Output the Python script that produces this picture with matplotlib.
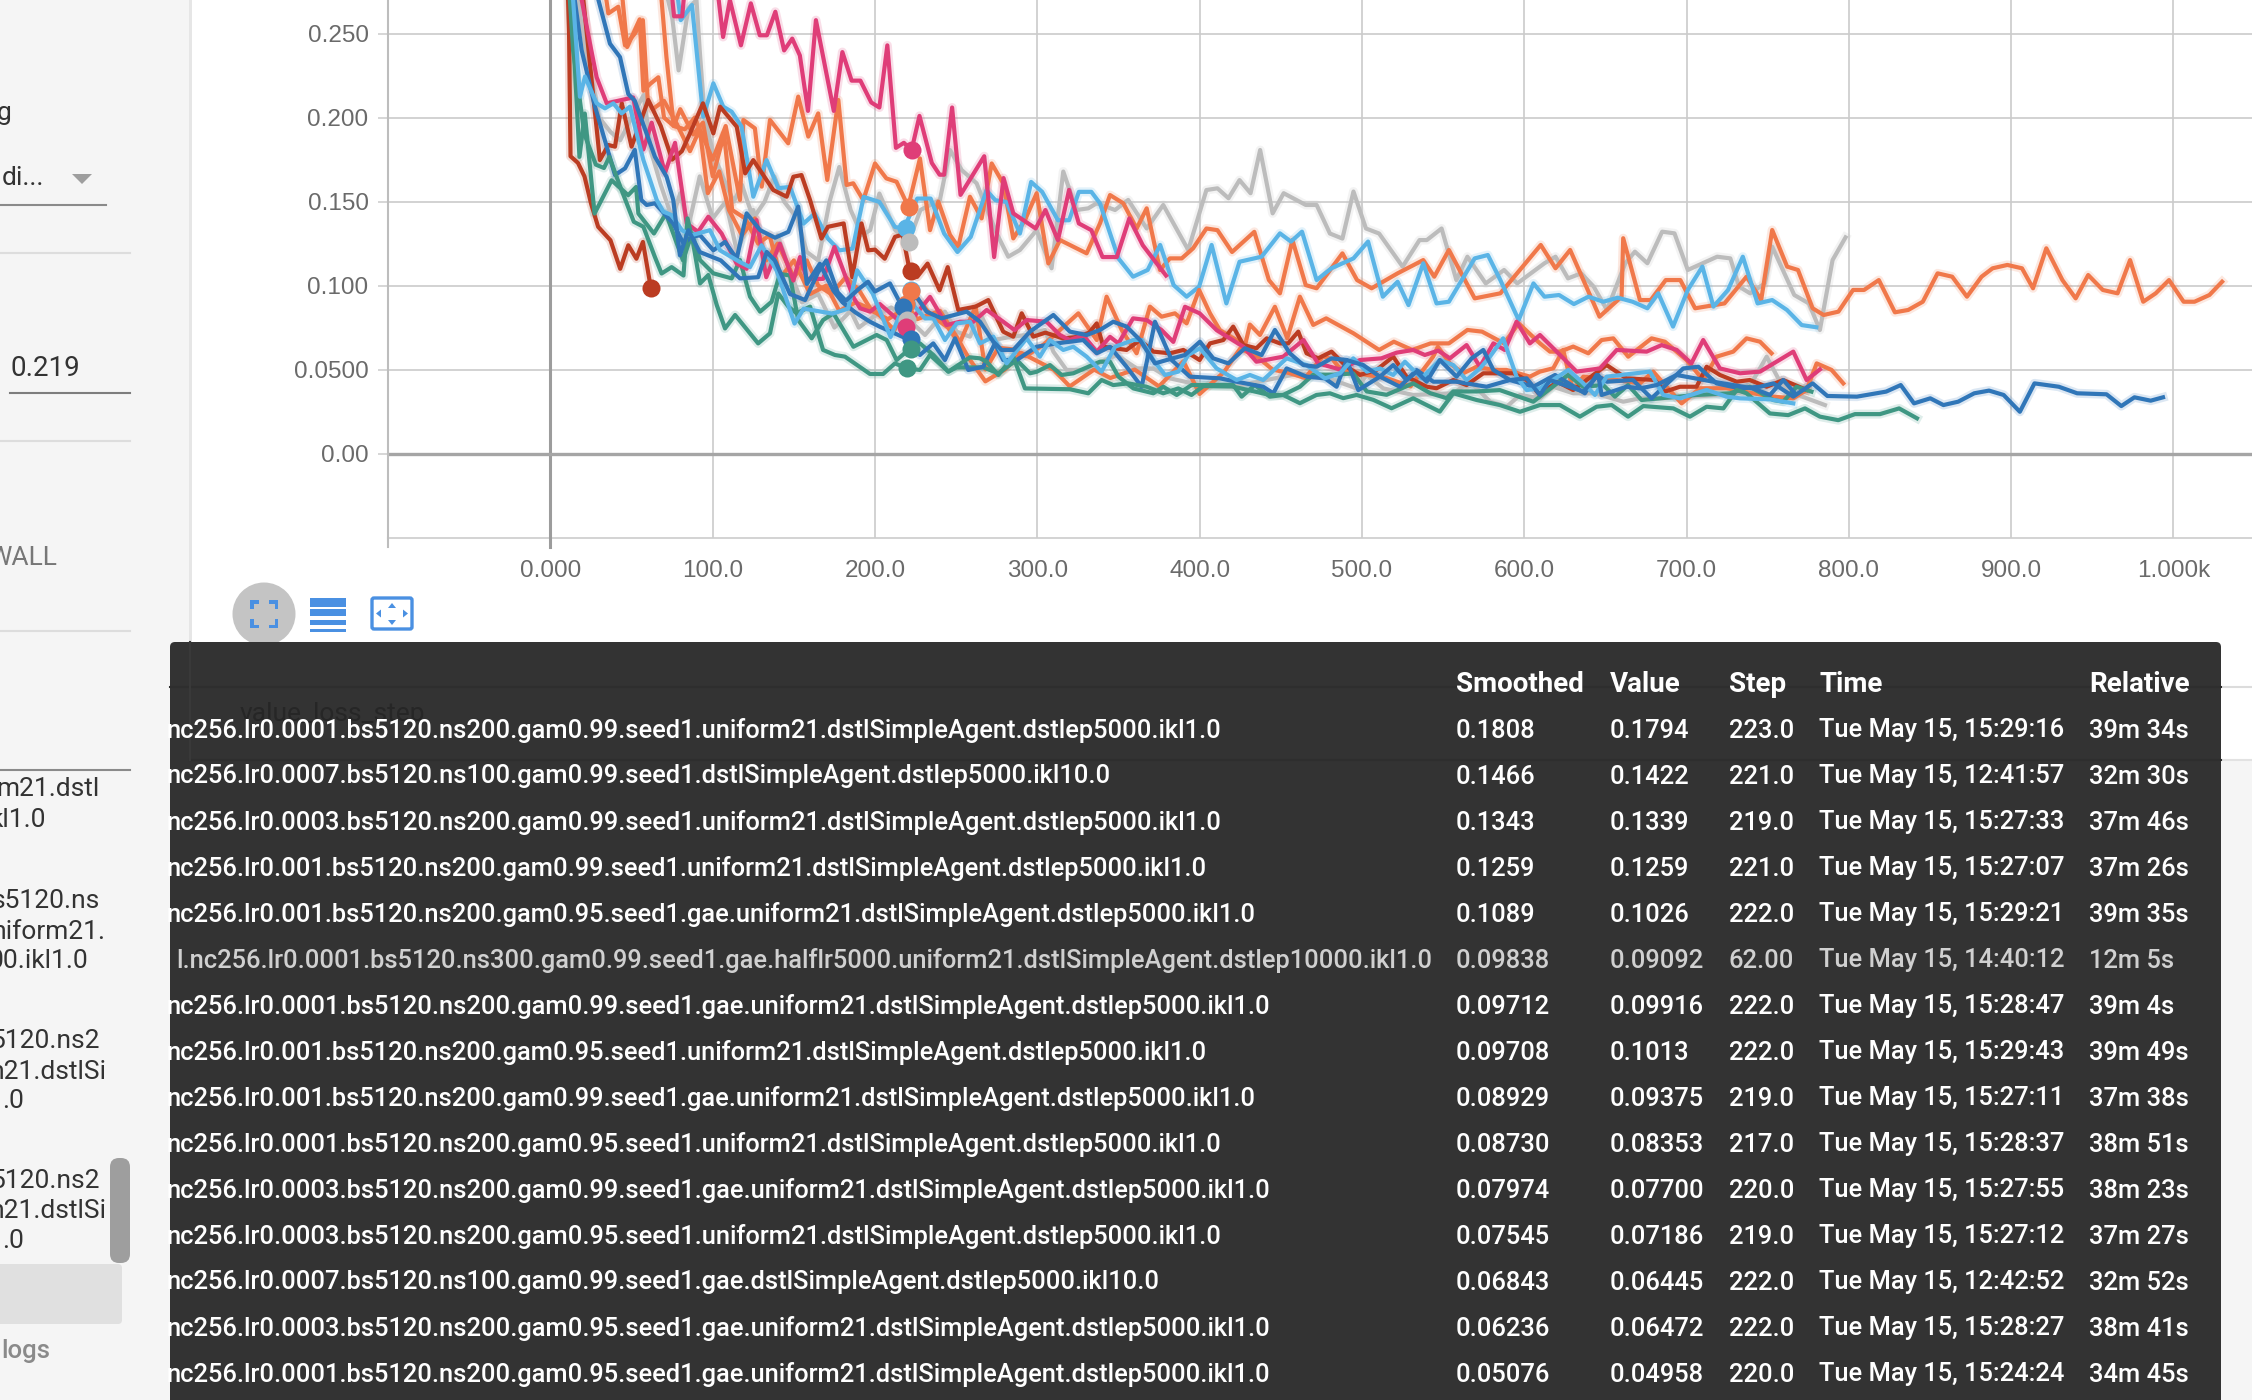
import matplotlib
matplotlib.use("Agg")
import matplotlib.pyplot as plt
from matplotlib.patches import Rectangle, FancyBboxPatch, Ellipse, Polygon

plt.rcParams['font.family'] = ['Roboto', 'DejaVu Sans']

ORANGE = '#f0784a'
BLUE = '#3076b8'
RED = '#bb3c22'
LBLUE = '#5ab4e6'
PINK = '#df3d78'
TEAL = '#3f9783'
GRAY = '#bcbcbc'

# run curves (step, smoothed value)
gray_hi_steps = [70,75,79,85,90,92,95,100,106,113,118,125,132,138,144,152,158,165,172,178,185,192,197,202.7,212.5,220.8,228,240,246.2,253.4,262.6,275,282.1,289.3,299.6,308.8,316,324.2,331.4,336.6,347.9,356,367.4,377.6,393,404.2,411,417.8,424.6,431.4,437.3,445,451.8,465.4,472.1,480.3,488,494.8,502.5,510.6,525.1,535.5,540,549.1,558.2,565,576.3,587.6,595.7,612.5,619.3,627,635.1,642.8,651,662.3,668.2,675.9,685,692.6,700.8,718.9,727,732.4,739.2,748.3,752.8,766.4,775.4,782.2,790,798]
gray_hi_vals = [.28,.26,.2281,.265,.27,.24,.2,.18,.165,.15,.16,.14,.15,.165,.15,.14,.12,.115,.15,.1706,.145,.13,.133,.1548,.133,.1262,.145,.151,.1807,.1688,.1609,.131,.1172,.1212,.133,.1103,.1679,.145,.146,.149,.145,.151,.134,.148,.1212,.1569,.1579,.152,.1628,.155,.1807,.143,.155,.148,.148,.131,.128,.156,.134,.131,.1113,.1271,.1271,.134,.1033,.1172,.1013,.1093,.1013,.1133,.1172,.1043,.1073,.0994,.0855,.1133,.1202,.1133,.1321,.1311,.1093,.1172,.1162,.0994,.0954,.1013,.1232,.0944,.0894,.0736,.1152,.1287]

orange_long_steps = [66,68.5,71.5,76,82.8,89,100,108,116.8,118.9,126,130.2,135.3,146.5,152.7,158.9,165,170.6,177.4,182.5,186.6,192.8,200,207,213.3,220.5,227.7,233.9,239,246.2,251.3,258.5,265.7,271.9,279,285.2,292.4,299.6,306.8,314,330.4,338.6,344.8,353,361.2,367.4,375.6,381.7,389,396,404.2,411,420,433.7,442.7,449.5,457.2,465.4,472.1,488,497,506,522,537.8,544.6,553.6,569.5,585.3,610.2,619.3,628.3,646.4,660,661,671.3,678,687.2,696.2,705.3,723.4,737,746,752.8,762,768.7,777.7,784.5,793.6,802.6,809.4,818.5,828.4,836.6,845.6,854.7,863.7,872.8,881.8,888.6,897.7,906.7,913.5,921.7,931.6,939.8,947.5,956.5,965.6,973.3,981.4,989.1,997.3,1006.3,1013,1022.2,1030]
orange_long_vals = [.32,.27,.236,.195,.193,.2,.175,.195,.151,.1986,.1936,.1589,.1986,.1847,.2125,.1887,.2025,.1629,.2105,.1599,.1609,.1509,.1727,.1638,.1618,.147,.1757,.133,.15,.1302,.1231,.1529,.14,.1727,.1608,.1281,.139,.155,.1132,.1271,.1192,.137,.1539,.149,.134,.146,.1093,.1162,.1162,.1222,.134,.133,.12,.132,.1033,.0954,.1271,.1003,.0984,.1192,.1033,.0984,.1073,.1152,.1053,.1212,.0924,.0954,.1242,.1103,.1212,.0815,.0934,.1282,.0914,.0914,.1033,.1033,.0865,.0894,.1053,.0914,.1331,.1113,.1093,.0865,.0825,.0845,.0974,.0974,.1033,.0841,.0855,.0904,.1073,.1053,.0934,.1053,.1103,.1123,.1103,.0984,.1222,.1033,.0924,.1063,.0974,.0954,.1152,.0904,.0954,.1033,.0904,.0904,.0944,.1023]

lblue_hi_steps = [70,76,80.3,87.2,94.2,100.4,106.5,111.7,117.8,125,133.2,140.4,147.7,156,162.8,171,178,186.2,193,202.7,212.3,217.8,226,234.3,242.6,250.8,259,268.7,274.2,281,289.3,296.2,303,312.7,319.6,325.6,333.3,338.6,350,359,368,375.7,384,392,399.7,407.4,416.5,424.6,438.2,449.5,456.3,463.1,472.1,481.2,494.8,503.8,512.9,522,528.7,537.8,546,553.6,569.5,577.6,585.3,596.6,605.7,612.5,621.5,630.6,639.6,648.7,657.7,666.8,675.9,682.6,691.7,700.8,709.8,716.6,725.6,734.7,743.8,752.8,761.9,771,780]
lblue_hi_vals = [.35,.29,.258,.267,.2005,.2204,.2065,.2035,.1946,.1529,.1747,.158,.1587,.1369,.1429,.128,.121,.122,.1528,.1498,.1349,.1339,.1518,.1518,.131,.12,.129,.1567,.1508,.1498,.131,.1617,.1558,.1389,.1389,.1558,.1558,.149,.1162,.1053,.1093,.1242,.1003,.0934,.0994,.1242,.0894,.1142,.1172,.1311,.1262,.1321,.1033,.1103,.1162,.1262,.0934,.1023,.0884,.1133,.0894,.0904,.1162,.1182,.1033,.0795,.1013,.0934,.0944,.089,.0934,.0904,.0928,.0904,.0865,.0954,.0756,.0974,.1113,.0875,.0974,.1172,.0894,.0914,.0855,.0765,.0752]

orange_mid_steps = [30,35.7,41.8,46,52,57,60,63,70,78,86,92,97,104,110,118,126,133,140,150,158,165,173,182,190,198,208,216,222,228,235,245,252,262,268,276,285,293,304,314,325.3,336.6,342.7,352,361.2,369.4,376.6,384.8,392,399.7,406.4,412.5,428,431,437.2,446.4,454,461.8,470,478,494.8,510.6,519.7,531,542.3,553.6,565,574,587.6,596.6,609.7,615.9,622,630.2,639.5,647.7,654.9,664.1,678.5,686.7,700,710.3,718.5,728.8,737,745.3,752.4]
orange_mid_vals = [.3,.262,.266,.243,.25,.258,.21,.205,.21,.196,.18,.193,.155,.168,.145,.13,.14,.115,.125,.105,.115,.1,.095,.105,.0975,.085,.08,.085,.097,.09,.082,.075,.0655,.0875,.05,.063,.062,.058,.065,.0736,.0835,.0676,.0934,.0736,.0597,.0875,.0815,.0835,.0775,.0974,.0835,.0735,.0645,.0768,.0706,.0874,.0686,.0934,.0766,.0805,.0716,.0617,.0666,.0617,.0656,.0656,.0736,.0726,.0656,.0775,.0656,.0607,.0607,.0637,.0597,.0676,.0686,.0577,.0686,.0666,.0557,.0438,.0577,.0607,.0686,.0666,.0597]

orange_low_steps = [40,44.5,47.3,55,57.3,61.4,66.5,70,76,80,88,94,100,107,112,120,128,135,142,150,160,170,178,188,200,212,219,226,240,250,258,268,280,290,300,310,320,335,345,360,375,390,400,415,425,435,445,455,465,476,482,487,499,515,530,543.9,546.8,554.2,562.4,570.7,581,589,603.5,609.7,617.9,624,630,636.4,657,671.3,679.5,687.7,697,708.3,724.7,741,753.5,765.8,774,780.2,789.4,796.6]
orange_low_vals = [.32,.27,.242,.2585,.216,.22,.224,.2,.195,.205,.19,.197,.165,.19,.145,.14,.125,.13,.105,.115,.095,.1,.085,.09,.085,.0735,.0893,.08,.085,.07,.0565,.043,.05,.06,.055,.05,.04,.05,.045,.05,.04,.055,.0355,.0485,.0625,.058,.05,.048,.045,.058,.056,.05,.0475,.045,.04,.0577,.0636,.0537,.0478,.0517,.0498,.0498,.0458,.0488,.0508,.0617,.0379,.0458,.0438,.0418,.0488,.0398,.0299,.0389,.0389,.0359,.0339,.0329,.0379,.0537,.0498,.0418]

pink_hi_steps = [60,72,76.2,81.2,84,95,103.7,106.4,110.6,117.4,123.5,129,133.4,138.6,144,149,153.7,158.7,163.6,174.6,179.9,185.6,191,197.7,202.7,207.6,212.9,217.8,222.5,227.4,235,239.8,242.6,247.5,252.7,267.3,273.4,279.2,285.2,299,305,312.7,319.6,325.6,333.3,340.2,349,356.7,365,379.3]
pink_hi_vals = [.34,.30,.2603,.2603,.29,.30,.27,.248,.27,.243,.268,.249,.249,.263,.24,.247,.237,.204,.258,.204,.239,.222,.222,.209,.206,.243,.182,.185,.1805,.201,.173,.166,.166,.206,.154,.177,.117,.164,.143,.134,.145,.127,.157,.137,.133,.117,.117,.14,.124,.106]

pink_mid_steps = [12,19.3,24.4,28.5,34.7,51,57.3,62.4,70.6,76.8,84,91,97.3,105.5,114.8,120.9,127,133,141.4,149.7,153.8,158,168,175,186.7,190.8,197,203,219,233.9,244,252.4,260.6,268.8,279,286,293.4,305.7,314,320,328.3,336.6,344.8,350,359,367.4,376.6,383.8,391,400,410.5,427,435,451.5,464,473,486.5,498.8,512,521.4,531.6,538.8,547,554.2,564.5,572.7,581,588,595.3,603.5,609.7,620,632.3,646.7,657,675.4,684.7,694,703,710.3,720.6,733,745.3,765.8,774,782.2]
pink_mid_vals = [.33,.27,.244,.224,.2085,.212,.181,.197,.167,.185,.137,.132,.141,.131,.113,.11,.139,.105,.125,.103,.117,.104,.104,.123,.093,.0865,.0845,.089,.0755,.0933,.0765,.0785,.0785,.0855,.0785,.0735,.0795,.0785,.0705,.0676,.0705,.0606,.0695,.0656,.0805,.0795,.0735,.0665,.0874,.0835,.0735,.0636,.0547,.0577,.0676,.0537,.0501,.0557,.0567,.0601,.0617,.0587,.0613,.0567,.0646,.0517,.0656,.0617,.0785,.0656,.0706,.0607,.0488,.0507,.0617,.0607,.0646,.0617,.0537,.0676,.0507,.0478,.0488,.0607,.0438,.0501]

gray_low_steps = [12,22,30,37,43,50,57.5,62,68,75,80,85,92,100,108,115,125,133,140,147,155,165,175,185,190,199,210,221,230.8,243.1,250.3,258.5,264.7,272.9,284.2,293.4,304.7,309.9,318,328.3,339.6,348.9,361.2,371.5,381.7,400.2,420.7,441.3,461.8,482.4,496.7,503,513.2,531.6,556.3,566.6,579,589.2,597.4,609.7,617.9,630.2,643.6,661,671.3,685.7,720.6,737,749.4,757.6,765.8,785.3]
gray_low_vals = [.3,.24,.2,.1915,.1865,.2,.2135,.18,.16,.14,.155,.135,.165,.14,.15,.12,.145,.11,.13,.11,.09,.095,.075,.085,.075,.0815,.087,.0797,.0706,.0845,.0726,.0696,.0835,.0676,.0696,.0706,.0736,.0607,.0498,.0498,.0547,.0587,.0507,.0507,.0448,.0408,.0398,.0438,.0478,.0438,.0388,.0468,.0388,.0349,.0359,.0428,.0309,.0279,.0349,.0329,.0398,.0359,.0359,.0309,.0329,.0329,.0349,.0369,.0577,.0428,.0359,.0289]

lblue_low_steps = [10,14,18.2,21.3,28.5,33.6,38.8,43.9,49,53.1,57.3,61.4,65.5,69.6,74.7,81,87,98.3,104.5,116.8,123,130.1,139.4,150.4,156,173.8,183.4,189,198.6,209.6,221.4,224.6,230.8,236,243.1,250.3,258.5,264.7,272.9,281.1,293.4,301.6,307.8,316,322.2,330.4,339.6,347.9,359.2,364.3,371.5,378.7,386.9,393,400.2,410.5,422.8,431,439.2,453.6,465.9,477.2,486.5,494.7,503,511.1,519.3,526.5,536.8,548,556.3,564.5,572.7,578.9,587,595.3,601.5,609.7,627.2,635.4,643.6,650.8,677.5,685.7,696,712.4,724.7,733,751.4,765.8]
lblue_low_vals = [.4,.27,.2124,.2244,.2085,.2055,.2085,.2025,.2065,.1906,.1747,.1629,.151,.144,.142,.133,.13,.133,.121,.114,.111,.124,.109,.0774,.0863,.0833,.0863,.1091,.0952,.0694,.0968,.0874,.0805,.0805,.0676,.0775,.0785,.0656,.0696,.0537,.0686,.0577,.0676,.0617,.0636,.0577,.0488,.0636,.0676,.0676,.0557,.0468,.0488,.0587,.0627,.0507,.0438,.0468,.0438,.0567,.0527,.0448,.0478,.0567,.0488,.0507,.0468,.0547,.0448,.0557,.0527,.0438,.0507,.0577,.0686,.0458,.0378,.0388,.0498,.0428,.0349,.0458,.0488,.0349,.0329,.0379,.0339,.0329,.0323,.0299]

red_short_steps = [10,11.5,12.4,17,21,25,29.4,37,43,48,53,57,62]
red_short_vals = [.3,.25,.177,.173,.165,.149,.135,.127,.11,.124,.116,.126,.098]

red_mid_steps = [18,20.3,30.5,35.7,39.8,44,50,60.3,68,75,81,86,94,100.4,104.5,114.8,120,125,137.3,145.6,149.7,154.7,160,167,171,180.7,186,191.7,195.8,200,206,212.3,217,221.4,226,232.4,239.8,244.8,251.3,262,269.8,279,285.2,290.4,297.5,305,316,325,332,336.6,340.7,355,363.2,371.5,381.7,390,400,406.4,414.6,420.7,427,435,441.3,449.5,454.6,460.8,465.9,473.1,481.3,490.6,498.8,509,519.3,527.5,540,546,556.3,564.5,574.8,593.3,601.5,609.7,620,630.2,650.8,663,680.6,686.7,696,706.2,712.4,720.6,730.9,739,749.4,759.6,774]
red_mid_vals = [.32,.27,.1747,.1837,.1827,.2085,.1827,.2105,.195,.175,.18,.1906,.2085,.1906,.2065,.1946,.1668,.1747,.1569,.1529,.1648,.1658,.1509,.128,.135,.137,.105,.137,.121,.1214,.116,.129,.1304,.1087,.1052,.1131,.0972,.111,.0855,.0875,.0914,.0726,.0696,.0835,.0696,.072,.0685,.0695,.072,.0775,.0636,.0617,.0676,.0607,.0597,.0617,.0557,.0656,.0676,.0756,.0646,.0627,.0686,.0656,.0656,.0726,.0597,.0567,.0607,.0517,.0468,.0498,.0577,.0458,.0398,.0389,.0438,.0408,.0478,.0478,.0438,.0349,.0428,.0379,.0527,.0448,.0438,.0369,.0398,.0398,.0517,.0468,.0428,.0438,.0398,.0438,.0379]

blue_long_steps = [12,15,19.3,27.5,39.8,46,52,56,59.3,64.4,75.7,82,87,92.2,100.4,107.6,114.8,120.9,129.2,138.4,146.6,152.7,158,166,174.4,180,188,196.9,203,219.5,227.7,235.9,243.1,249.3,257.5,266.7,273.9,279,287.3,299.6,311.9,328.3,336.6,344.8,355,364.3,372.5,382.8,394,412.5,422.8,439.2,445.4,453.6,465.9,477.2,484.4,490.6,497.8,511.1,523.4,533.7,544,558.3,576.8,591.2,605.6,619,637.4,644.6,651,667,678.5,698,707.3,718.5,733,745.3,753.5,765.8,777.7,786.8,805,823,832,840.2,850.2,858.3,867.4,877.3,886.4,895.4,905.4,914.4,929.4,940.7,958.8,967.9,976,986,993.6]
blue_long_vals = [.33,.27,.24,.2065,.1658,.1698,.1808,.151,.148,.149,.137,.125,.129,.13,.121,.126,.116,.143,.133,.1285,.132,.147,.101,.113,.097,.09,.084,.0785,.0755,.0684,.0587,.0656,.0557,.0686,.0498,.0517,.0656,.0557,.0557,.0636,.0656,.0676,.0597,.0636,.0517,.0398,.0785,.0557,.0458,.0448,.0428,.0398,.0359,.0507,.0458,.0448,.0398,.0557,.0378,.0458,.0398,.0497,.0428,.0428,.0398,.0438,.0398,.0468,.0359,.0468,.0428,.0438,.0329,.0507,.0517,.0418,.0388,.0398,.0418,.0339,.0418,.0343,.0339,.0369,.0408,.0299,.0329,.0289,.0309,.0359,.0375,.0349,.0249,.0418,.0398,.0359,.0353,.0283,.0335,.0315,.0335]

blue_mid_steps = [24,29.6,36.7,42.9,48,52,64.4,71.6,75.7,79.8,85,92,105,116.8,128,133.3,138.3,147.6,156.9,165,170,177,182,190,195.7,200,209.2,216.8,225.7,231.8,241,256.5,264.7,272.9,278,285.2,295.5,309.9,320.1,330.4,338.6,346.8,355,363.3,372.5,379.7,391,400.2,408.4,417.7,427.9,438.2,446.4,455.6,463.9,472.1,481.3,490.6,500.8,511.1,519.3,527.5,533.7,539.9,548,558.3,567.6,574.8,581,591.2,601.5,609.7,615.9,636.4,645.6,647.7,663.1,671.3,681.6,693.9,716.5,741,751.4,759.6,766.8]
blue_mid_vals = [.33,.27,.244,.236,.214,.21,.1767,.1648,.151,.118,.133,.12,.115,.1043,.105,.12,.115,.095,.0914,.108,.115,.096,.091,.098,.1023,.0965,.1013,.0873,.0934,.0845,.0805,.0845,.0785,.0666,.0617,.0617,.0726,.0825,.0726,.0706,.0736,.0785,.0756,.0676,.0537,.0557,.0587,.0666,.0567,.0537,.0627,.0587,.0736,.0597,.0527,.0517,.0567,.0557,.0527,.0458,.0527,.0438,.0488,.0428,.0557,.0458,.0567,.0617,.0498,.0438,.0448,.0349,.0438,.0369,.0468,.0349,.0398,.0388,.0408,.0468,.0428,.0388,.0349,.0438,.0359]

teal_low_steps = [10,14,21,28,33,36.3,43,51.4,57.3,64.4,68.5,74.7,82,84.5,88,92.2,97.3,102.5,107.6,113.8,128,135.3,140.4,146.6,151.7,160,168,175.3,181.5,196.9,205,212.3,219.5,227.7,233.9,245.2,251.3,258.5,264.7,268.8,276,285.2,292.4,320.1,331.4,339.6,346.8,356,367.4,377.6,386.9,395,402.3,420,443.3,451.5,461.8,472,480.3,488.5,496.7,507,518.3,531.6,548,556.3,570.7,585,597.4,609.7,622,634.3,644.6,653.9,664,673.4,691.9,702.1,712.4,722.7,730.9,737,751.4,762.7,773,782.2,793.5,803.8,819.2,831,842]
teal_low_vals = [.3,.24,.19,.172,.17,.1766,.159,.138,.135,.117,.1072,.111,.106,.14,.125,.1013,.1063,.0884,.0745,.0825,.0656,.0716,.0953,.0875,.0835,.0875,.0617,.0587,.0577,.0474,.0474,.0537,.0507,.0498,.0587,.0488,.0527,.0573,.0567,.0547,.0468,.0577,.0388,.0383,.0359,.0438,.0408,.0418,.0398,.0359,.0388,.0349,.0402,.04,.0349,.0349,.03,.0349,.0359,.033,.0349,.032,.027,.0329,.025,.0359,.0319,.0289,.0249,.0289,.0289,.022,.0279,.0289,.022,.0283,.0269,.022,.0279,.0269,.0379,.0359,.0239,.0229,.0269,.022,.0199,.0235,.0235,.0269,.021]

teal_mid_steps = [10,14,17.9,21.2,27.2,37.7,47.9,52.8,54.2,63.8,71.2,81.7,87.2,92.2,100.4,111.7,116.8,123,129.2,136.3,141.4,147.6,152.7,161,168,174.4,186.7,196.9,201,207.2,213.3,221.5,227.7,236,245.2,250.3,266.7,276,287.3,295.5,299.6,307.8,315,322.2,338.6,344.8,350,359.2,371.5,377.6,385.9,395,406.4,420.7,425.9,434,443.3,451.5,461.8,470,482.4,494.7,503,515.2,531.6,542,552.2,556.3,570.7,585,605.6,627,636.4,648.7,655.9,664,672.3,706.2,726.8,739,753.5,759.6,767.8,777]
teal_mid_vals = [.33,.25,.1766,.2024,.1429,.1627,.1538,.1587,.1429,.131,.1429,.115,.131,.1152,.1073,.1043,.1152,.0934,.0845,.0904,.107,.106,.0795,.0686,.0795,.0835,.0636,.0686,.0706,.0676,.0557,.0624,.0656,.0587,.0488,.0513,.0513,.0478,.0557,.0478,.0487,.0527,.0468,.0478,.0547,.0547,.0458,.0388,.0359,.0398,.0349,.0408,.0408,.0408,.0339,.0408,.0339,.0349,.0398,.047,.047,.0477,.037,.035,.0418,.036,.033,.037,.037,.0378,.0309,.0468,.0398,.0408,.0339,.0408,.0319,.0349,.0359,.0398,.0319,.0309,.0398,.0369]

# tooltip table
table_names = [
    "nc256.lr0.0001.bs5120.ns200.gam0.99.seed1.uniform21.dstlSimpleAgent.dstlep5000.ikl1.0",
    "nc256.lr0.0007.bs5120.ns100.gam0.99.seed1.dstlSimpleAgent.dstlep5000.ikl10.0",
    "nc256.lr0.0003.bs5120.ns200.gam0.99.seed1.uniform21.dstlSimpleAgent.dstlep5000.ikl1.0",
    "nc256.lr0.001.bs5120.ns200.gam0.99.seed1.uniform21.dstlSimpleAgent.dstlep5000.ikl1.0",
    "nc256.lr0.001.bs5120.ns200.gam0.95.seed1.gae.uniform21.dstlSimpleAgent.dstlep5000.ikl1.0",
    "l.nc256.lr0.0001.bs5120.ns300.gam0.99.seed1.gae.halflr5000.uniform21.dstlSimpleAgent.dstlep10000.ikl1.0",
    "nc256.lr0.0001.bs5120.ns200.gam0.99.seed1.gae.uniform21.dstlSimpleAgent.dstlep5000.ikl1.0",
    "nc256.lr0.001.bs5120.ns200.gam0.95.seed1.uniform21.dstlSimpleAgent.dstlep5000.ikl1.0",
    "nc256.lr0.001.bs5120.ns200.gam0.99.seed1.gae.uniform21.dstlSimpleAgent.dstlep5000.ikl1.0",
    "nc256.lr0.0001.bs5120.ns200.gam0.95.seed1.uniform21.dstlSimpleAgent.dstlep5000.ikl1.0",
    "nc256.lr0.0003.bs5120.ns200.gam0.99.seed1.gae.uniform21.dstlSimpleAgent.dstlep5000.ikl1.0",
    "nc256.lr0.0003.bs5120.ns200.gam0.95.seed1.uniform21.dstlSimpleAgent.dstlep5000.ikl1.0",
    "nc256.lr0.0007.bs5120.ns100.gam0.99.seed1.gae.dstlSimpleAgent.dstlep5000.ikl10.0",
    "nc256.lr0.0003.bs5120.ns200.gam0.95.seed1.gae.uniform21.dstlSimpleAgent.dstlep5000.ikl1.0",
    "nc256.lr0.0001.bs5120.ns200.gam0.95.seed1.gae.uniform21.dstlSimpleAgent.dstlep5000.ikl1.0",
]
table_smoothed = ["0.1808","0.1466","0.1343","0.1259","0.1089","0.09838","0.09712","0.09708","0.08929","0.08730","0.07974","0.07545","0.06843","0.06236","0.05076"]
table_value = ["0.1794","0.1422","0.1339","0.1259","0.1026","0.09092","0.09916","0.1013","0.09375","0.08353","0.07700","0.07186","0.06445","0.06472","0.04958"]
table_step = ["223.0","221.0","219.0","221.0","222.0","62.00","222.0","222.0","219.0","217.0","220.0","219.0","222.0","222.0","220.0"]
table_time = ["Tue May 15, 15:29:16","Tue May 15, 12:41:57","Tue May 15, 15:27:33","Tue May 15, 15:27:07","Tue May 15, 15:29:21","Tue May 15, 14:40:12","Tue May 15, 15:28:47","Tue May 15, 15:29:43","Tue May 15, 15:27:11","Tue May 15, 15:28:37","Tue May 15, 15:27:55","Tue May 15, 15:27:12","Tue May 15, 12:42:52","Tue May 15, 15:28:27","Tue May 15, 15:24:24"]
table_rel = ["39m 34s","32m 30s","37m 46s","37m 26s","39m 35s","12m 5s","39m 4s","39m 49s","37m 38s","38m 51s","38m 23s","37m 27s","32m 52s","38m 41s","34m 45s"]
marker_colors = [PINK,ORANGE,LBLUE,GRAY,RED,RED,LBLUE,ORANGE,ORANGE,BLUE,GRAY,PINK,BLUE,TEAL,TEAL]

xtick_vals = [0,100,200,300,400,500,600,700,800,900,1000]
xtick_labels = ["0.000","100.0","200.0","300.0","400.0","500.0","600.0","700.0","800.0","900.0","1.000k"]
ytick_vals = [0,.05,.1,.15,.2,.25]
ytick_labels = ["0.00","0.0500","0.100","0.150","0.200","0.250"]

W, H = 2252, 1400
fig = plt.figure(figsize=(W/100, H/100), dpi=100, facecolor='white')

# background layer in pixel coords
bg = fig.add_axes([0, 0, 1, 1], zorder=0)
bg.set_xlim(0, W); bg.set_ylim(H, 0); bg.axis('off')
bg.add_patch(Rectangle((0, 760), W, 640, fc='#f5f5f5', ec='none'))
bg.add_patch(Rectangle((0, 0), 190, H, fc='#f5f5f5', ec='none'))
bg.add_patch(Rectangle((189, 0), 3, 760, fc='#e6e6e6', ec='none'))
bg.plot([190, W], [687, 687], color='#dcdcdc', lw=1.5)
bg.plot([190, W], [760, 760], color='#e2e2e2', lw=1.5)

# chart
L, B = 388, 538
ax = fig.add_axes([L/W, 1-B/H, (W-L)/W, B/H], zorder=1)
ax.patch.set_alpha(0)
ax.set_xlim((L-550.4)/1.623, (W-550.4)/1.623)
ax.set_ylim((453.6-B)/1680, 453.6/1680)
ax.set_xticks(xtick_vals); ax.set_xticklabels(xtick_labels)
ax.set_yticks(ytick_vals); ax.set_yticklabels(ytick_labels)
ax.tick_params(axis='x', length=0, pad=16, labelsize=17.5, labelcolor='#6a6a6a',
               labelfontfamily='Liberation Sans')
ax.tick_params(axis='y', length=7, width=1.1, color='#cccccc', pad=7, labelsize=17.5,
               labelcolor='#6a6a6a', labelfontfamily='Liberation Sans')
ax.grid(True, color='#cbcbcb', lw=1.2)
ax.set_axisbelow(True)
for s in ['top', 'right']:
    ax.spines[s].set_visible(False)
ax.spines['left'].set_color('#bdbdbd'); ax.spines['left'].set_linewidth(1.5)
ax.spines['bottom'].set_color('#cccccc'); ax.spines['bottom'].set_linewidth(1.2)
ax.axvline(0, color='#9c9c9c', lw=2.2, zorder=1.5)
ax.axhline(0, color='#a5a5a5', lw=2.4, zorder=1.5)

series = [
    (gray_hi_steps, gray_hi_vals, GRAY),
    (orange_long_steps, orange_long_vals, ORANGE),
    (lblue_hi_steps, lblue_hi_vals, LBLUE),
    (gray_low_steps, gray_low_vals, GRAY),
    (orange_low_steps, orange_low_vals, ORANGE),
    (orange_mid_steps, orange_mid_vals, ORANGE),
    (red_short_steps, red_short_vals, RED),
    (red_mid_steps, red_mid_vals, RED),
    (teal_mid_steps, teal_mid_vals, TEAL),
    (pink_mid_steps, pink_mid_vals, PINK),
    (blue_long_steps, blue_long_vals, BLUE),
    (teal_low_steps, teal_low_vals, TEAL),
    (lblue_low_steps, lblue_low_vals, LBLUE),
    (blue_mid_steps, blue_mid_vals, BLUE),
    (pink_hi_steps, pink_hi_vals, PINK),
]
for st, vals, c in series:
    ax.plot(st, vals, color=c, lw=6.5, alpha=0.17, zorder=2)
for st, vals, c in series:
    ax.plot(st, vals, color=c, lw=3.0, zorder=3)

# hover dots at the tooltip rows
for i in range(15):
    ax.plot(float(table_step[i]), float(table_smoothed[i]), 'o', color=marker_colors[i],
            ms=13, mew=0, zorder=4)

# ui layer
ui = fig.add_axes([0, 0, 1, 1], zorder=2)
ui.set_xlim(0, W); ui.set_ylim(H, 0); ui.axis('off')
ui.patch.set_alpha(0)

# axis stubs below the plot
ui.plot([388, 388], [538, 547], color='#bdbdbd', lw=1.5)
ui.plot([550.4, 550.4], [538, 547], color='#9c9c9c', lw=2.2)

# sidebar
for x0, x1, y, c in [(0,106,205,'#8a8a8a'),(0,130,253,'#dddddd'),(10,130,393,'#7d7d7d'),
                     (0,130,441,'#dddddd'),(0,130,631,'#dddddd'),(0,130,770,'#8a8a8a')]:
    ui.plot([x0, x1], [y, y], color=c, lw=1.5)
ui.add_patch(Polygon([(72,174),(92,174),(82,184)], fc='#9e9e9e', ec='none'))
side_texts = [(12,113,"g",'#333333'),(44,178,"di...",'#333333'),(57,558,"WALL",'#777777'),
              (46,820,"kl1.0",'#333333'),(100,901,"s5120.ns",'#333333'),(105,932,"niform21.",'#333333'),
              (88,961,"00.ikl1.0",'#333333'),(100,1041,"5120.ns2",'#333333'),(106,1072,"n21.dstlSi",'#333333'),
              (24,1101,".0",'#333333'),(100,1181,"5120.ns2",'#333333'),(106,1211,"n21.dstlSi",'#333333'),
              (24,1241,".0",'#333333')]
for x, y, s, c in side_texts:
    ui.text(x, y, s, ha='right', va='center', fontsize=19, color=c)
ui.text(10, 368, "0.219", ha='left', va='center', fontsize=20, color='#333333')
ui.text(1, 1351, "logs", ha='left', va='center', fontsize=18.5, color='#8a8a8a', fontweight='medium')
# list row scrolled under the divider, only its lower half shows
cut = ui.text(100, 789, "m21.dstl", ha='right', va='center', fontsize=19, color='#333333')
cut.set_clip_path(Rectangle((0, 786), 170, 40, transform=ui.transData))
ui.add_patch(FancyBboxPatch((110+9, 1158+9), 2, 87, boxstyle="round,pad=9,rounding_size=9",
                            fc='#9e9e9e', ec='none'))
ui.add_patch(FancyBboxPatch((-10, 1264), 132, 60, boxstyle="round,pad=0,rounding_size=4",
                            fc='#e0e0e0', ec='none'))

# toolbar icons
ICON = '#4a90e2'
ui.add_patch(Ellipse((264, 614), 63, 63, fc='#c4c4c4', ec='none'))
for cx, cy, dx, dy in [(250,600,1,1),(278,600,-1,1),(250,628,1,-1),(278,628,-1,-1)]:
    ui.add_patch(Rectangle((cx, cy), 9*dx, 3.5*dy, fc=ICON, ec='none'))
    ui.add_patch(Rectangle((cx, cy), 3.5*dx, 9*dy, fc=ICON, ec='none'))
for y, h in [(598,9),(609,7),(620,5),(629,3)]:
    ui.add_patch(Rectangle((310, y), 36, h, fc=ICON, ec='none'))
ui.add_patch(FancyBboxPatch((372, 598), 40, 31, boxstyle="round,pad=0,rounding_size=2",
                            fc='white', ec=ICON, lw=2.4))
ui.add_patch(Polygon([(392,603),(388,608),(396,608)], fc=ICON, ec='none'))
ui.add_patch(Polygon([(392,625),(388,620),(396,620)], fc=ICON, ec='none'))
ui.add_patch(Polygon([(376,613.5),(381,609.5),(381,617.5)], fc=ICON, ec='none'))
ui.add_patch(Polygon([(408,613.5),(403,609.5),(403,617.5)], fc=ICON, ec='none'))

# tooltip panel
panel = FancyBboxPatch((170, 642), 2051, 800, boxstyle="round,pad=0,rounding_size=5",
                       fc='#333333', ec='none', zorder=3)
ui.add_patch(panel)
ui.plot([170, 2221], [687, 687], color='#2e2e2e', lw=1.5, zorder=3.1)
ui.plot([190, 2221], [760, 760], color='#2e2e2e', lw=1.5, zorder=3.1)
ui.plot([190, 190], [642, 760], color='#393939', lw=1.5, zorder=3.1)
ui.text(240, 714, "value_loss_step", ha='left', va='center', fontsize=19, color='#262626', zorder=3.2)

clip = Rectangle((170, 642), 2051, 800, transform=ui.transData)
col_x = [1456, 1610, 1729, 1819, 2089]
for x, s in zip(col_x, ["Smoothed", "Value", "Step", "Time", "Relative"]):
    ui.text(x, 684, s, ha='left', va='center', fontsize=20, color='white', fontweight='bold', zorder=4)
for i in range(15):
    y = 730.5 + 46*i
    c = '#d0d0d0' if i == 5 else 'white'
    nx = 176 if i == 5 else 166
    t = ui.text(nx, y, table_names[i], ha='left', va='center', fontsize=18.4, color=c,
                fontweight='medium', zorder=4)
    t.set_clip_path(clip)
    for x, col in zip(col_x, [table_smoothed, table_value, table_step, table_time, table_rel]):
        ui.text(x, y, col[i], ha='left', va='center', fontsize=18.4, color=c, fontweight='medium', zorder=4)

fig.savefig("out.png", dpi=100)
